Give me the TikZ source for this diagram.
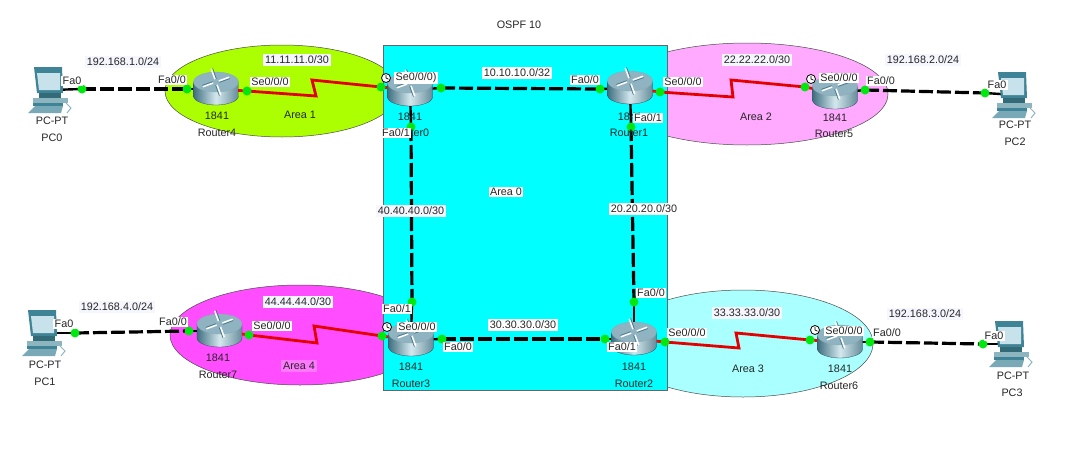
\documentclass[tikz,border=0pt]{standalone}
\usepackage{fontspec}
\setmainfont{Liberation Sans}
\usetikzlibrary{calc}
\pgfdeclarelayer{back}
\pgfdeclarelayer{links}
\pgfsetlayers{back,links,main}
\definecolor{areaA}{HTML}{ABFF00}
\definecolor{areaB}{HTML}{FFAAFF}
\definecolor{areaC}{HTML}{AAFFFF}
\definecolor{areaD}{HTML}{FF4DFF}
\definecolor{areaZ}{HTML}{00FFFF}
\definecolor{portgreen}{HTML}{00E810}
\definecolor{rdark}{HTML}{3F6F80}
\definecolor{rmid}{HTML}{D4E8EE}
\definecolor{rtop}{HTML}{8FB3C0}
\definecolor{pcteal}{HTML}{3F8496}
\definecolor{pcscreen}{HTML}{C8E2EC}
\definecolor{subnetbg}{HTML}{F6F6FF}
\tikzset{
  x=1pt,y=-1pt,
  txt/.style={font=\fontsize{10.8}{12}\selectfont,inner sep=0.6pt,text=black!85},
  port/.style={txt,fill=white,inner xsep=1.2pt,inner ysep=1.2pt},
  subnet/.style={txt,fill=subnetbg,inner xsep=2pt,inner ysep=2pt},
  dot/.style={circle,fill=portgreen,inner sep=0pt,minimum size=9pt},
  eth/.style={draw=black,line width=3.2pt,dash pattern=on 14pt off 4pt},
  stub/.style={draw=black,line width=2.4pt},
  serial/.style={draw=red!90!black,line width=2.8pt,line join=miter},
  serialstub/.style={draw=red,line width=2.8pt},
  areaedge/.style={draw=black!70,line width=0.5pt},
  clockface/.style={circle,draw=black,fill=white,line width=0.8pt,inner sep=0pt,minimum size=9pt},
  pics/routericon/.style={code={
    \shade[left color=rdark,right color=rdark!80,middle color=rmid,draw=rdark!70!black,line width=0.3pt]
      (-22.5,-7) -- (-22.5,7) arc[x radius=22.5,y radius=9,start angle=180,end angle=0] -- (22.5,-7) -- cycle;
    \fill[rtop,draw=rdark!60,line width=0.3pt] (0,-7) ellipse[x radius=22.5,y radius=10];
    \foreach \ang in {20,110,200,290}{
      \draw[white,line width=1.5pt,rotate around={\ang:(0,-7)}] (3,-7) -- (14,-7);
      \draw[rdark,line width=0.6pt,rotate around={\ang:(0,-7)}] (3,-5.5) -- (14,-5.5);
    }
  }},
  pics/pcicon/.style={code={
    \fill[pcteal] (-17,-23) -- (11,-23) -- (12,3) -- (-14,3) -- cycle;
    \fill[pcscreen] (-14,-17) -- (9,-17) -- (9,0) -- (-12,0) -- cycle;
    \fill[pcteal!80!black] (-12,3) rectangle (10,8);
    \fill[pcteal!60!white] (-18,8) -- (17,8) -- (17,13) -- (-18,13) -- cycle;
    \fill[pcteal] (-18,13) rectangle (12,16);
    \fill[pcteal!70!white] (-16,16) -- (12,16) -- (10,23) -- (-23,23) -- cycle;
    \draw[pcteal!60!white,line width=1pt] (15,13) -- (20,18) -- (16,23);
  }}
}
\begin{document}
\begin{tikzpicture}
\useasboundingbox (0,0) rectangle (1080,450);
\begin{pgfonlayer}{back}
  \fill[white] (0,0) rectangle (1080,450);
  \fill[areaA] (282,91) ellipse[x radius=117,y radius=46];
  \draw[areaedge] (282,91) ellipse[x radius=117,y radius=46];
  \fill[areaB] (747,94) ellipse[x radius=141,y radius=51];
  \draw[areaedge] (747,94) ellipse[x radius=141,y radius=51];
  \fill[areaC] (743,343.5) ellipse[x radius=130,y radius=53.5];
  \draw[areaedge] (743,343.5) ellipse[x radius=130,y radius=53.5];
  \fill[areaD] (300,335) ellipse[x radius=130,y radius=50];
  \draw[areaedge] (300,335) ellipse[x radius=130,y radius=50];
  \draw[fill=areaZ,draw=black!60,line width=1pt] (383,45) rectangle (667,390);
\end{pgfonlayer}

% device centres
\coordinate (pc0) at (51,90);
\coordinate (pc1) at (45,333);
\coordinate (pc2) at (1015,95);
\coordinate (pc3) at (1012,344);
\coordinate (r4) at (216,89);
\coordinate (r0) at (410,90);
\coordinate (r1) at (630,88);
\coordinate (r5) at (835,93);
\coordinate (r7) at (219.5,331);
\coordinate (r3) at (411,340);
\coordinate (r2) at (634,339);
\coordinate (r6) at (840,342);

\pic at (pc0) {pcicon};
\pic at (pc1) {pcicon};
\pic at (pc2) {pcicon};
\pic at (pc3) {pcicon};
\foreach \r in {r4,r0,r1,r5,r7,r3,r2,r6} \pic at (\r) {routericon};

% ports
\node[dot] (pPC0) at (82,89) {};
\node[dot] (pR4f) at (187,89) {};
\node[dot] (pR4s) at (247,91) {};
\node[dot] (pR0s) at (381,87) {};
\node[dot] (pR0e) at (441,88) {};
\node[dot] (pR1e) at (600,89) {};
\node[dot] (pR1s) at (660,92) {};
\node[dot] (pR5s) at (805,87) {};
\node[dot] (pR5f) at (865,90) {};
\node[dot] (pPC2) at (985,93) {};
\node[dot] (pR0v) at (411,127) {};
\node[dot] (pR1v) at (631,127) {};
\node[dot] (pR3v) at (412,302) {};
\node[dot] (pR2v) at (634,302) {};
\node[dot] (pR3s) at (382,336) {};
\node[dot] (pR3e) at (442,339) {};
\node[dot] (pR2e) at (605,339) {};
\node[dot] (pR2s) at (665,342) {};
\node[dot] (pR6s) at (810,340) {};
\node[dot] (pR6f) at (870,342) {};
\node[dot] (pPC3) at (983,344) {};
\node[dot] (pPC1) at (75,333) {};
\node[dot] (pR7f) at (189,331) {};
\node[dot] (pR7s) at (249,335) {};

\begin{pgfonlayer}{links}
  % ethernet
  \draw[eth] (pPC0.center) -- (pR4f.center);
  \draw[eth] (pPC1.center) -- (pR7f.center);
  \draw[eth] (pR0e.center) -- (pR1e.center);
  \draw[eth] (pR3e.center) -- (pR2e.center);
  \draw[eth] (pR0v.center) -- (pR3v.center);
  \draw[eth] (pR1v.center) -- (pR2v.center);
  \draw[eth] (pR5f.center) -- (pPC2.center);
  \draw[eth] (pR6f.center) -- (pPC3.center);
  % stubs
  \draw[stub] (pc0) -- (pPC0.center);
  \draw[stub] (pc1) -- (pPC1.center);
  \draw[stub] (pc2) -- (pPC2.center);
  \draw[stub] (pc3) -- (pPC3.center);
  \foreach \a/\b in {r4/pR4f,r0/pR0e,r1/pR1e,r5/pR5f,r7/pR7f,r3/pR3e,r2/pR2e,r6/pR6f,r0/pR0v,r1/pR1v,r3/pR3v,r2/pR2v}
    \draw[stub] (\a) -- (\b.center);
  \foreach \a/\b in {r4/pR4s,r0/pR0s,r1/pR1s,r5/pR5s,r7/pR7s,r3/pR3s,r2/pR2s,r6/pR6s}
    \draw[serialstub] (\a) -- (\b.center);
  % serial
  \draw[serial] (pR4s.center) -- (316,96) -- (312,80) -- (pR0s.center);
  \draw[serial] (pR1s.center) -- (733,97) -- (731,80) -- (pR5s.center);
  \draw[serial] (pR2s.center) -- (739,348) -- (736,333) -- (pR6s.center);
  \draw[serial] (pR7s.center) -- (317,343) -- (314,326) -- (pR3s.center);
\end{pgfonlayer}

% device captions
\node[txt] (t1) at (217,116) {1841};
\node[txt] (t2) at (217,133) {Router4};
\node[txt] (t3) at (410,117) {1841};
\node[txt] (t4) at (410,133) {Router0};
\node[txt] (t5) at (630,117) {1841};
\node[txt] (t6) at (629,133) {Router1};
\node[txt] (t7) at (835,118) {1841};
\node[txt] (t8) at (834,134) {Router5};
\node[txt] (t9) at (218,358) {1841};
\node[txt] (t10) at (218,375) {Router7};
\node[txt] (t11) at (411,367) {1841};
\node[txt] (t12) at (411,384) {Router3};
\node[txt] (t13) at (634,367) {1841};
\node[txt] (t14) at (634,384) {Router2};
\node[txt] (t15) at (840,369) {1841};
\node[txt] (t16) at (839,386) {Router6};
\node[txt] (t17) at (52,121) {PC-PT};
\node[txt] (t18) at (52,138) {PC0};
\node[txt] (t19) at (45,365) {PC-PT};
\node[txt] (t20) at (45,382) {PC1};
\node[txt] (t21) at (1015,125) {PC-PT};
\node[txt] (t22) at (1015,142) {PC2};
\node[txt] (t23) at (1013,376) {PC-PT};
\node[txt] (t24) at (1012,393) {PC3};

% areas and title
\node[txt] (a1) at (300,115) {Area 1};
\node[txt] (a2) at (756,117) {Area 2};
\node[txt] (a3) at (748,369) {Area 3};
\node[txt,fill=areaD!75!white,inner sep=2pt] (a4) at (299,366) {Area 4};
\node[port] (a0) at (506,192) {Area 0};
\node[txt] (title) at (519,25) {OSPF 10};

% subnets
\node[subnet] (s1) at (123,62) {192.168.1.0/24};
\node[subnet] (s2) at (297,60) {11.11.11.0/30};
\node[subnet,fill=white] (s3) at (517,73) {10.10.10.0/32};
\node[subnet] (s4) at (757,60) {22.22.22.0/30};
\node[subnet] (s5) at (923,60) {192.168.2.0/24};
\node[subnet] (s6) at (411,211) {40.40.40.0/30};
\node[subnet,fill=white] (s7) at (644,209) {20.20.20.0/30};
\node[subnet] (s8) at (117,307) {192.168.4.0/24};
\node[subnet] (s9) at (298,302) {44.44.44.0/30};
\node[subnet,fill=white] (s10) at (523,325) {30.30.30.0/30};
\node[subnet] (s11) at (747,313) {33.33.33.0/30};
\node[subnet] (s12) at (925,314) {192.168.3.0/24};

% port labels
\node[port] (l1) at (72,81) {Fa0};
\node[port] (l2) at (172,80) {Fa0/0};
\node[port] (l3) at (270,82) {Se0/0/0};
\node[port] (l4) at (416,78) {Se0/0/0)};
\node[port] (l5) at (396,133) {Fa0/1};
\node[port] (l6) at (585,80) {Fa0/0};
\node[port] (l7) at (648,118) {Fa0/1};
\node[port] (l8) at (683,82) {Se0/0/0};
\node[port] (l9) at (839,78) {Se0/0/0};
\node[port] (l10) at (881,81) {Fa0/0};
\node[port] (l11) at (997,85) {Fa0};
\node[port] (l12) at (64,324) {Fa0};
\node[port] (l13) at (173,322) {Fa0/0};
\node[port] (l14) at (272,326) {Se0/0/0};
\node[port] (l15) at (397,309) {Fa0/1};
\node[port] (l16) at (417,327) {Se0/0/0};
\node[port] (l17) at (458,347) {Fa0/0};
\node[port] (l18) at (622,347) {Fa0/1};
\node[port] (l19) at (651,293) {Fa0/0};
\node[port] (l20) at (687,333) {Se0/0/0};
\node[port] (l21) at (844,331) {Se0/0/0};
\node[port] (l22) at (887,333) {Fa0/0};
\node[port] (l23) at (994,336) {Fa0};

% clocks
\foreach \n/\x/\y in {c0/386/78,c5/811/79,c3/387/327,c6/815/330}{
  \node[clockface] (\n) at (\x,\y) {};
  \draw[black,line width=0.7pt] (\n.center) -- ++(0,-3) (\n.center) -- ++(2.5,1.2);
}
\end{tikzpicture}
\end{document}
